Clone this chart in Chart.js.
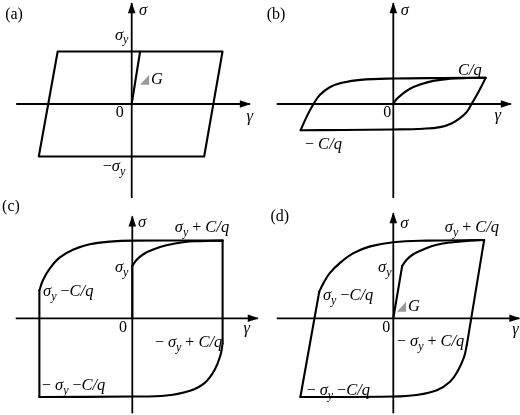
<!DOCTYPE html>
<html>
<head>
<meta charset="utf-8">
<script src="https://cdn.jsdelivr.net/npm/chart.js@4.4.1/dist/chart.umd.min.js"></script>
<style>
  html, body { margin: 0; padding: 0; background: #fff; }
  #wrap { position: relative; width: 520px; height: 415px; overflow: hidden; }
  #wrap canvas { position: absolute; }
</style>
</head>
<body>
<div id="wrap">
  <canvas id="pa" width="260" height="200" style="left:0;top:0"></canvas>
  <canvas id="pb" width="260" height="200" style="left:260px;top:0"></canvas>
  <canvas id="pc" width="260" height="215" style="left:0;top:200px"></canvas>
  <canvas id="pd" width="260" height="215" style="left:260px;top:200px"></canvas>
</div>
<script>
// values in units of sigma_y (gamma in the same arbitrary unit)

// (a) elastic - perfectly plastic
const axisA_x = [-2.20, 2.25];
const axisA_y = [-1.79, 1.92];
const loopA = [[-1.41, 1], [1.73, 1], [1.38, -1], [-1.77, -1], [-1.41, 1]];
const initA = [[0, 0], [0.16, 1]];

// (b) kinematic hardening only
const axisB_x = [-2.22, 2.24];
const axisB_y = [-1.79, 1.92];
const initB = [[0, 0], [0.06, 0.09], [0.16, 0.18], [0.32, 0.29], [0.51, 0.37], [0.76, 0.44], [1.08, 0.48], [1.40, 0.495], [1.76, 0.5]];
const downB = [[1.76, 0.50], [1.68, 0.34], [1.59, 0.17], [1.49, 0], [1.40, -0.15], [1.27, -0.27], [1.11, -0.37], [0.89, -0.44], [0.57, -0.47], [0, -0.485], [-0.95, -0.495], [-1.765, -0.5]];
const upB = [[-1.765, -0.5], [-1.65, -0.24], [-1.52, 0], [-1.40, 0.17], [-1.21, 0.32], [-0.95, 0.41], [-0.63, 0.46], [0, 0.485], [0.95, 0.495], [1.76, 0.5]];

// (c) rigid - plastic with hardening
const axisC_x = [-2.22, 2.39];
const axisC_y = [-1.81, 1.94];
const rigidC = [[0, 0], [0, 1.0]];
const initC = [[0, 1.0], [0.08, 1.11], [0.21, 1.22], [0.40, 1.31], [0.65, 1.39], [0.97, 1.45], [1.29, 1.47], [1.72, 1.48]];
const rightC = [[1.72, 1.48], [1.72, -0.48]];
const downC = [[1.72, -0.48], [1.68, -0.70], [1.57, -0.98], [1.38, -1.23], [1.10, -1.38], [0.65, -1.47], [0, -1.49], [-1.77, -1.50]];
const leftC = [[-1.77, -1.50], [-1.77, 0.53]];
const upC = [[-1.77, 0.53], [-1.70, 0.73], [-1.57, 0.95], [-1.38, 1.16], [-1.12, 1.31], [-0.81, 1.41], [-0.43, 1.46], [0, 1.48], [1.72, 1.48]];

// (d) elastic - plastic with hardening
const axisD_x = [-2.22, 2.40];
const axisD_y = [-1.81, 2.00];
const elasticD = [[0, 0], [0.17, 1.0]];
const initD = [[0.17, 1.0], [0.25, 1.11], [0.38, 1.22], [0.57, 1.31], [0.83, 1.40], [1.14, 1.45], [1.46, 1.48], [1.73, 1.49]];
const rightD = [[1.73, 1.49], [1.40, -0.51]];
const downD = [[1.40, -0.51], [1.35, -0.73], [1.24, -0.98], [1.08, -1.21], [0.83, -1.37], [0.44, -1.46], [0, -1.49], [-1.77, -1.50]];
const leftD = [[-1.77, -1.50], [-1.41, 0.51]];
const upD = [[-1.41, 0.51], [-1.33, 0.67], [-1.21, 0.86], [-1.02, 1.05], [-0.76, 1.24], [-0.44, 1.37], [0, 1.45], [0.63, 1.48], [1.73, 1.49]];

// text runs: '' upright, 'i' italic, 's' italic subscript, 'tri' grey triangle
const SIG_Y = [['σ', 'i'], ['y', 's']];
const labelsA = [
    [-2.41, 1.70, 'left', [['(a)', '']]],
    [0.14, 1.77, 'left', [['σ', 'i']]],
    [-0.32, 1.31, 'left', SIG_Y],
    [0.16, 0.46, 'left', [['', 'tri'], ['G', 'i']]],
    [-0.15, -0.17, 'right', [['0', '']]],
    [2.25, -0.25, 'center', [['γ', 'i']]],
    [-0.55, -1.20, 'left', [['−', '']].concat(SIG_Y)]
];
const labelsB = [
    [-2.41, 1.70, 'left', [['(b)', '']]],
    [0.14, 1.77, 'left', [['σ', 'i']]],
    [1.23, 0.63, 'left', [['C/q', 'i']]],
    [-0.04, -0.17, 'right', [['0', '']]],
    [1.99, -0.23, 'center', [['γ', 'i']]],
    [-1.68, -0.78, 'left', [['− ', ''], ['C/q', 'i']]]
];
const labelsC = [
    [-2.48, 2.12, 'left', [['(c)', '']]],
    [0.11, 1.83, 'left', [['σ', 'i']]],
    [0.81, 1.72, 'left', SIG_Y.concat([[' + ', ''], ['C/q', 'i']])],
    [-0.33, 0.96, 'left', SIG_Y],
    [-1.70, 0.50, 'left', SIG_Y.concat([[' −', ''], ['C/q', 'i']])],
    [-0.10, -0.18, 'right', [['0', '']]],
    [2.18, -0.20, 'center', [['γ', 'i']]],
    [0.43, -0.47, 'left', [['− ', '']].concat(SIG_Y, [[' + ', ''], ['C/q', 'i']])],
    [-1.72, -1.29, 'left', [['− ', '']].concat(SIG_Y, [[' −', ''], ['C/q', 'i']])]
];
const labelsD = [
    [-2.34, 1.93, 'left', [['(d)', '']]],
    [0.13, 1.80, 'left', [['σ', 'i']]],
    [0.98, 1.72, 'left', SIG_Y.concat([[' + ', ''], ['C/q', 'i']])],
    [-0.29, 0.96, 'left', SIG_Y],
    [-1.34, 0.43, 'left', SIG_Y.concat([[' −', ''], ['C/q', 'i']])],
    [0.07, 0.22, 'left', [['', 'tri'], ['G', 'i']]],
    [-0.06, -0.18, 'right', [['0', '']]],
    [2.33, -0.22, 'center', [['γ', 'i']]],
    [0.07, -0.44, 'left', [['− ', '']].concat(SIG_Y, [[' + ', ''], ['C/q', 'i']])],
    [-1.65, -1.38, 'left', [['− ', '']].concat(SIG_Y, [[' −', ''], ['C/q', 'i']])]
];

const UNIT = 52.5; // px per unit
const SERIF = '"Liberation Serif", "Times New Roman", serif';

function fontFor(kind) {
    if (kind === 'i') return 'italic 16.5px ' + SERIF;
    if (kind === 's') return 'italic 12px ' + SERIF;
    return '16px ' + SERIF;
}

function drawRuns(ctx, runs, x, y, align) {
    let total = 0;
    const parts = runs.map(r => {
        let w;
        if (r[1] === 'tri') {
            w = 11;
        } else {
            ctx.font = fontFor(r[1]);
            w = ctx.measureText(r[0]).width;
        }
        total += w;
        return { t: r[0], k: r[1], w: w };
    });
    let cx = x;
    if (align === 'right') cx = x - total;
    if (align === 'center') cx = x - total / 2;
    parts.forEach(p => {
        if (p.k === 'tri') {
            ctx.fillStyle = '#9a9a9a';
            ctx.beginPath();
            ctx.moveTo(cx, y + 5);
            ctx.lineTo(cx + 9, y + 5);
            ctx.lineTo(cx + 9, y - 5);
            ctx.closePath();
            ctx.fill();
            ctx.fillStyle = '#000';
        } else {
            ctx.font = fontFor(p.k);
            ctx.fillText(p.t, cx, y + (p.k === 's' ? 5 : 0));
        }
        cx += p.w;
    });
}

function line(points, tension) {
    return {
        data: points.map(p => ({ x: p[0], y: p[1] })),
        borderColor: '#000',
        borderWidth: 2.1,
        tension: tension,
        pointRadius: 0,
        fill: false,
        clip: false,
        borderCapStyle: 'round',
        borderJoinStyle: 'round'
    };
}

function makePanel(id, ox, oy, axisX, axisY, branches, labels) {
    const cv = document.getElementById(id);
    const W = cv.width, H = cv.height;

    const datasets = [
        Object.assign(line([[axisX[0], 0], [axisX[1], 0]], 0), { borderWidth: 1.8, borderCapStyle: 'butt' }),
        Object.assign(line([[0, axisY[0]], [0, axisY[1]]], 0), { borderWidth: 1.8, borderCapStyle: 'butt' })
    ];
    branches.forEach(b => datasets.push(line(b[0], b[1])));

    const decor = {
        id: 'decor_' + id,
        afterDatasetsDraw(chart) {
            const ctx = chart.ctx;
            const sx = chart.scales.x, sy = chart.scales.y;
            const x0 = sx.getPixelForValue(0), y0 = sy.getPixelForValue(0);
            ctx.save();
            ctx.fillStyle = '#000';
            // arrow heads
            const tx = sx.getPixelForValue(axisX[1]);
            ctx.beginPath();
            ctx.moveTo(tx + 1, y0);
            ctx.lineTo(tx - 10, y0 - 3.8);
            ctx.lineTo(tx - 10, y0 + 3.8);
            ctx.closePath();
            ctx.fill();
            const ty = sy.getPixelForValue(axisY[1]);
            ctx.beginPath();
            ctx.moveTo(x0, ty - 1);
            ctx.lineTo(x0 - 3.8, ty + 10);
            ctx.lineTo(x0 + 3.8, ty + 10);
            ctx.closePath();
            ctx.fill();
            // labels
            ctx.textBaseline = 'middle';
            labels.forEach(l => {
                drawRuns(ctx, l[3], sx.getPixelForValue(l[0]), sy.getPixelForValue(l[1]), l[2]);
            });
            ctx.restore();
        }
    };

    return new Chart(cv.getContext('2d'), {
        type: 'scatter',
        data: { datasets: datasets },
        options: {
            responsive: false,
            animation: false,
            showLine: true,
            layout: { padding: 0 },
            plugins: { legend: { display: false }, tooltip: { enabled: false } },
            scales: {
                x: { type: 'linear', display: false, min: -ox / UNIT, max: (W - ox) / UNIT },
                y: { type: 'linear', display: false, min: -(H - oy) / UNIT, max: oy / UNIT }
            }
        },
        plugins: [decor]
    });
}

makePanel('pa', 131.7, 104, axisA_x, axisA_y,
    [[loopA, 0], [initA, 0]], labelsA);
makePanel('pb', 133.3, 104, axisB_x, axisB_y,
    [[initB, 0.4], [downB, 0.4], [upB, 0.4]], labelsB);
makePanel('pc', 132.3, 118.3, axisC_x, axisC_y,
    [[rigidC, 0], [initC, 0.4], [rightC, 0], [downC, 0.4], [leftC, 0], [upC, 0.4]], labelsC);
makePanel('pd', 133.3, 118.3, axisD_x, axisD_y,
    [[elasticD, 0], [initD, 0.4], [rightD, 0], [downD, 0.4], [leftD, 0], [upD, 0.4]], labelsD);
</script>
</body>
</html>
